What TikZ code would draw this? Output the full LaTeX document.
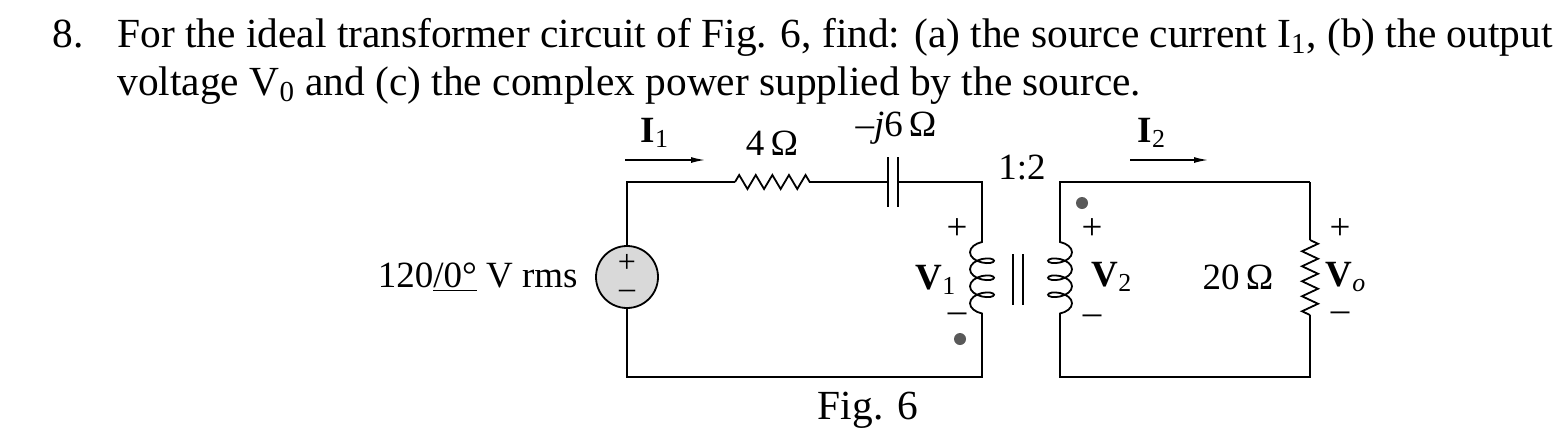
\documentclass[tikz,border=0pt]{standalone}
\usepackage{fontspec}
\setmainfont{Liberation Serif}
\usetikzlibrary{decorations.pathmorphing,arrows.meta}
\begin{document}
\begin{tikzpicture}[x=0.5pt,y=-0.5pt,
  wire/.style={line width=0.9pt},
  lbl/.style={font=\fontsize{18.5}{21}\selectfont, inner sep=0pt},
  txt/.style={font=\fontsize{20.7}{24}\selectfont, inner sep=0pt, anchor=base west},
  arr/.style={line width=0.7pt,-{Latex[length=7pt,width=3pt]}}]
\useasboundingbox (0,0) rectangle (1568,435);
\node[txt] (n8) at (52,47) {8.};
\node[txt] (l1) at (117,47) {For the ideal transformer circuit of Fig. 6, find: (a) the source current I\textsubscript{1}, (b) the output};
\node[txt] (l2) at (117,95) {voltage V\textsubscript{0} and (c) the complex power supplied by the source.};
% coordinates
\coordinate (tl) at (627,182); \coordinate (bl) at (627,377);
\coordinate (r1a) at (735,182); \coordinate (r1b) at (812,182);
\coordinate (c1a) at (888,182); \coordinate (c1b) at (898,182);
\coordinate (tr1) at (982,182); \coordinate (br1) at (982,377);
\coordinate (p1) at (982,240); \coordinate (p2) at (982,318);
\coordinate (tl2) at (1060,182); \coordinate (bl2) at (1060,377);
\coordinate (s1) at (1060,240); \coordinate (s2) at (1060,318);
\coordinate (tr2) at (1310,182); \coordinate (br2) at (1310,377);
\coordinate (r2a) at (1310,240); \coordinate (r2b) at (1310,315);
\node[circle, draw, fill=gray!30, minimum size=31pt, inner sep=0pt, wire] (src) at (627,277) {};
\node[lbl, font=\fontsize{16}{18}\selectfont] at (627,263) {+};
\node[lbl, font=\fontsize{16}{18}\selectfont] at (627,294) {--};
\draw[wire] (src.north) -- (tl) -- (r1a);
\draw[wire,decorate,decoration={zigzag,segment length=8.3pt,amplitude=3.5pt}] (r1a) -- (r1b);
\draw[wire] (r1b) -- (c1a);
\draw[wire] (c1a)+(0,-25) -- +(0,25);
\draw[wire] (c1b)+(0,-25) -- +(0,25);
\draw[wire] (c1b) -- (tr1) -- (p1);
\draw[wire,decorate,decoration={coil,segment length=8.5pt,amplitude=6pt,aspect=0.5,mirror,pre length=1pt,post length=1pt}] (p1) -- (p2);
\draw[wire] (p2) -- (br1) -- (bl) -- (src.south);
\draw[wire] (1013,254) -- (1013,305);
\draw[wire] (1023,254) -- (1023,305);
\draw[wire] (tr2) -- (tl2) -- (s1);
\draw[wire,decorate,decoration={coil,segment length=8.5pt,amplitude=6pt,aspect=0.5,pre length=1pt,post length=1pt}] (s1) -- (s2);
\draw[wire] (s2) -- (bl2) -- (br2) -- (r2b);
\draw[wire,decorate,decoration={zigzag,segment length=7.5pt,amplitude=4pt}] (r2b) -- (r2a);
\draw[wire] (r2a) -- (tr2);
\fill[gray!70!black] (960,339) circle (6);
\fill[gray!70!black] (1082,203) circle (6);
% labels
\node[lbl] at (655,133) {\textbf{I}\textsubscript{1}};
\coordinate (a1) at (625,160); \coordinate (a2) at (705,160);
\draw[arr] (a1) -- (a2);
\node[lbl] at (1152,133) {\textbf{I}\textsubscript{2}};
\coordinate (b1) at (1130,160); \coordinate (b2) at (1208,160);
\draw[arr] (b1) -- (b2);
\node[lbl] at (772,143) {4\,Ω};
\node[lbl] at (896,128) {--\textit{j}6\,Ω};
\node[lbl] at (1022,168) {1:2};
\node[lbl] at (957,229) {+};
\node[lbl] at (936,280) {\textbf{V}\textsubscript{1}};
\node[lbl] at (957,318) {--};
\node[lbl] at (1092,229) {+};
\node[lbl] at (1112,277) {\textbf{V}\textsubscript{2}};
\node[lbl] at (1092,320) {--};
\node[lbl] at (1238,277) {20\,Ω};
\node[lbl] at (1340,229) {+};
\node[lbl] at (1346,277) {\textbf{V}\textsubscript{\textit{o}}};
\node[lbl] at (1340,317) {--};
\node[lbl,anchor=east] at (578,277) {120\underline{/0°}\ V rms};
\node[font=\fontsize{20.7}{24}\selectfont, inner sep=0pt] (fig) at (868,410) {Fig. 6};
\end{tikzpicture}
\end{document}
